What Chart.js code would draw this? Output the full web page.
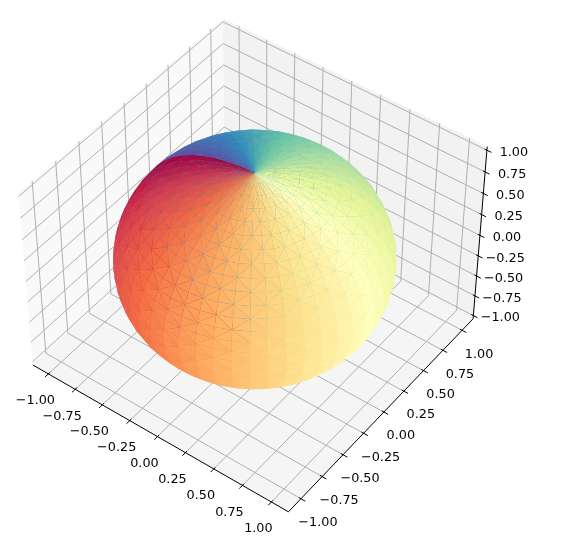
<!DOCTYPE html>
<html>
<head>
<meta charset="utf-8">
<style>
  html, body { margin: 0; padding: 0; background: #fff; }
  canvas { display: block; }
</style>
<script src="https://cdn.jsdelivr.net/npm/chart.js@4"></script>
</head>
<body>
<canvas id="chart" width="567" height="557"></canvas>
<script>
// axis ticks, same on all three axes
const tickValues = [-1, -0.75, -0.5, -0.25, 0, 0.25, 0.5, 0.75, 1];
const tickLabels = ["\u22121.00", "\u22120.75", "\u22120.50", "\u22120.25", "0.00", "0.25", "0.50", "0.75", "1.00"];

// sphere mesh, in degrees
const longitudes = [-180, -172.65, -165.31, -157.96, -150.61, -143.27, -135.92, -128.57, -121.22, -113.88,
  -106.53, -99.18, -91.84, -84.49, -77.14, -69.80, -62.45, -55.10, -47.76, -40.41, -33.06, -25.71, -18.37,
  -11.02, -3.67, 3.67, 11.02, 18.37, 25.71, 33.06, 40.41, 47.76, 55.10, 62.45, 69.80, 77.14, 84.49, 91.84,
  99.18, 106.53, 113.88, 121.22, 128.57, 135.92, 143.27, 150.61, 157.96, 165.31, 172.65, 180];
const colatitudes = [0, 6, 12, 18, 24, 30, 36, 42, 48, 54, 60, 66, 72, 78, 84, 90, 96, 102, 108, 114, 120,
  126, 132, 138, 144, 150, 156, 162, 168, 174, 180];

// Spectral colormap stops
const spectral = [[158, 1, 66], [213, 62, 79], [244, 109, 67], [253, 174, 97], [254, 224, 139], [255, 255, 191],
  [230, 245, 152], [171, 221, 164], [102, 194, 165], [50, 136, 189], [94, 79, 162]];

// camera and box
const elev = 45 * Math.PI / 180;
const azim = -53.2 * Math.PI / 180;
const dist = 10;
const xyUnit = 0.5195;
const zUnit = 0.4286;
const xyEdge = 1.1458;
const zEdge = 1.0417;

// projected units to canvas
const pxScale = 2725;
const originX = 254.8;
const originY = 258.3;

const W = [Math.cos(elev) * Math.cos(azim), Math.cos(elev) * Math.sin(azim), Math.sin(elev)];
const U = [-Math.sin(azim), Math.cos(azim), 0];
const V = [-Math.sin(elev) * Math.cos(azim), -Math.sin(elev) * Math.sin(azim), Math.cos(elev)];

const dot = (a, b) => a[0] * b[0] + a[1] * b[1] + a[2] * b[2];

function project(x, y, z) {
  const p = [x * xyUnit, y * xyUnit, z * zUnit];
  const d = dist - dot(W, p);
  return { x: dot(U, p) / d, y: dot(V, p) / d };
}

function depth(x, y, z) {
  return dot(W, [x * xyUnit, y * xyUnit, z * zUnit]);
}

function spectralColor(t) {
  const pos = Math.min(Math.max(t, 0), 1) * (spectral.length - 1);
  const i = Math.min(Math.floor(pos), spectral.length - 2);
  const f = pos - i;
  const c = spectral[i].map((s, k) => Math.round(s + (spectral[i + 1][k] - s) * f));
  return `rgb(${c[0]}, ${c[1]}, ${c[2]})`;
}

function polyline(corners, color, width) {
  return {
    data: corners.map((c) => project(c[0], c[1], c[2])),
    showLine: true,
    pointRadius: 0,
    borderColor: color,
    borderWidth: width,
    fill: false,
    clip: false,
  };
}

function pane(corners, color) {
  return {
    data: corners.map((c) => project(c[0], c[1], c[2])),
    showLine: true,
    pointRadius: 0,
    borderWidth: 0,
    backgroundColor: color,
    fill: "shape",
    clip: false,
  };
}

const a = xyEdge;
const h = zEdge;
const gridColor = "#b0b0b0";
const back = []; // drawn in this order, first is at the bottom

back.push(pane([[-a, -a, -h], [-a, a, -h], [-a, a, h], [-a, -a, h]], "#f9f9f9"));
back.push(pane([[-a, a, -h], [a, a, -h], [a, a, h], [-a, a, h]], "#f2f2f2"));
back.push(pane([[-a, -a, -h], [a, -a, -h], [a, a, -h], [-a, a, -h]], "#f5f5f5"));

tickValues.forEach((t) => {
  back.push(polyline([[t, -a, -h], [t, a, -h], [t, a, h]], gridColor, 1));
  back.push(polyline([[a, t, -h], [-a, t, -h], [-a, t, h]], gridColor, 1));
  back.push(polyline([[-a, -a, t], [-a, a, t], [a, a, t]], gridColor, 1));
});

// axis lines and tick marks
back.push(polyline([[-a, -a, -h], [a, -a, -h], [a, a, -h], [a, a, h]], "#000", 1));
const tickOut = 0.2 * 2.2 / 12;
const tickIn = 0.1 * 2.2 / 12;
tickValues.forEach((t) => {
  back.push(polyline([[t, -a - tickOut, -h], [t, -a + tickIn, -h]], "#000", 1));
  back.push(polyline([[a + tickOut, t, -h], [a - tickIn, t, -h]], "#000", 1));
  back.push(polyline([[a + tickOut, a, t], [a - tickIn, a, t]], "#000", 1));
});

// sphere triangles, flat coloured by longitude
const rad = Math.PI / 180;
const vertex = (i, j) => {
  const phi = longitudes[i] * rad;
  const theta = colatitudes[j] * rad;
  return [Math.sin(theta) * Math.cos(phi), Math.sin(theta) * Math.sin(phi), Math.cos(theta), longitudes[i]];
};

const triangles = [];
for (let i = 0; i < longitudes.length - 1; i++) {
  for (let j = 0; j < colatitudes.length - 1; j++) {
    const p00 = vertex(i, j);
    const p10 = vertex(i + 1, j);
    const p01 = vertex(i, j + 1);
    const p11 = vertex(i + 1, j + 1);
    if ((i + j) % 2 === 0) {
      triangles.push([p00, p10, p11], [p00, p11, p01]);
    } else {
      triangles.push([p00, p10, p01], [p10, p11, p01]);
    }
  }
}

const sorted = triangles
  .map((tri) => {
    let d = 0;
    let lon = 0;
    tri.forEach((p) => {
      d += depth(p[0], p[1], p[2]);
      lon += p[3];
    });
    return { tri, d: d / 3, lon: lon / 3 };
  })
  .sort((p, q) => p.d - q.d);

const surface = sorted.map((s) => pane(s.tri, spectralColor(s.lon / 360 + 0.5)));

// chart.js paints the first dataset last
const datasets = back.concat(surface).reverse();

const tickText = {
  id: "tickText",
  afterDatasetsDraw(chart) {
    const { ctx, scales } = chart;
    ctx.save();
    ctx.font = '12.8px "DejaVu Sans"';
    ctx.fillStyle = "#000";
    ctx.textAlign = "center";
    ctx.textBaseline = "middle";
    const put = (p, label, dx, dy) => {
      ctx.fillText(label, scales.x.getPixelForValue(p.x) + dx, scales.y.getPixelForValue(p.y) + dy);
    };
    tickValues.forEach((t, i) => {
      put(project(t, -a, -h), tickLabels[i], -13, 27);
      put(project(a, t, -h), tickLabels[i], 17, 24);
      put(project(a, a, t), tickLabels[i], 27, 2.5);
    });
    ctx.restore();
  },
};

new Chart(document.getElementById("chart"), {
  type: "scatter",
  data: { datasets },
  options: {
    responsive: false,
    animation: false,
    parsing: false,
    normalized: true,
    events: [],
    layout: { padding: 0 },
    plugins: { legend: { display: false }, tooltip: { enabled: false } },
    scales: {
      x: { display: false, bounds: "data", min: -originX / pxScale, max: (567 - originX) / pxScale },
      y: { display: false, bounds: "data", min: (originY - 557) / pxScale, max: originY / pxScale },
    },
  },
  plugins: [tickText],
});
</script>
</body>
</html>
